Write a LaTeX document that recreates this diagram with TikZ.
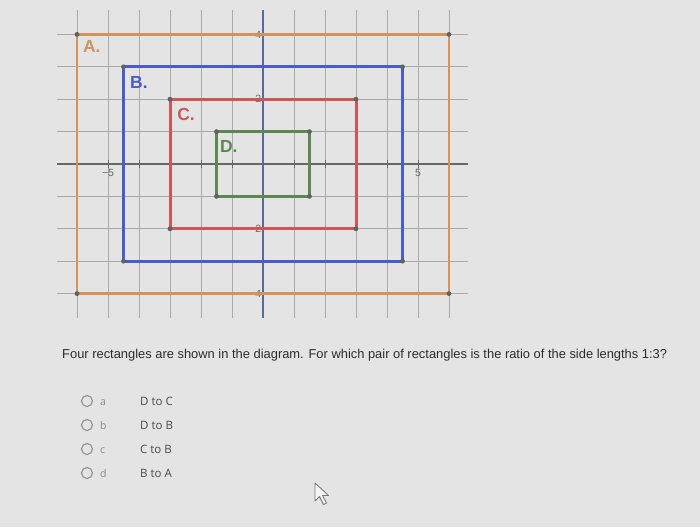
\documentclass[tikz,border=0pt]{standalone}
\usepackage{fontspec}
\setmainfont{Liberation Sans}
\newfontfamily\optfont{Open Sans}
\usetikzlibrary{positioning}
\definecolor{bg}{HTML}{E3E4E3}
\definecolor{gridgray}{HTML}{A9AAAA}
\definecolor{axisgray}{HTML}{666868}
\definecolor{axisblue}{HTML}{5A66A8}
\definecolor{colA}{HTML}{D4925C}
\definecolor{colB}{HTML}{4A5BD0}
\definecolor{colC}{HTML}{CE5656}
\definecolor{colD}{HTML}{5E8752}
\definecolor{dotgray}{HTML}{5F6360}
\definecolor{txtgray}{HTML}{2C2C2C}
\definecolor{optgray}{HTML}{7A7C7B}

\begin{document}
\begin{tikzpicture}
[x=1pt, y=-1pt, line join=round,
rect/.style={line width=#1},
letter/.style={font=\fontsize{17.5}{17.5}\selectfont\bfseries, anchor=north west, inner sep=0pt},
ticklabel/.style={font=\fontsize{10.5}{10.5}\selectfont, text=axisgray, inner sep=1.5pt},
radio/.style={circle, draw=optgray!80, line width=1.2pt, minimum size=11pt, inner sep=0pt},
optletter/.style={font=\optfont\fontsize{10.5}{12}\selectfont, text=optgray!90, anchor=base west, inner sep=0pt},
opttext/.style={font=\optfont\fontsize{11.5}{13}\selectfont, text=optgray!60!black, anchor=base west, inner sep=0pt}]

\useasboundingbox (0,0) rectangle (700,527);
\fill[bg] (0,0) rectangle (700,527);

% the plane
\begin{scope}[shift={(263,164)}, x=31pt, y=32.4pt]
\draw[gridgray, line width=0.8pt, step=1] (-6.65,-4.75) grid (6.6,4.75);
\draw[axisgray, line width=1.2pt] (-6.65,0) -- (6.6,0);
\draw[axisblue, line width=1.4pt] (0,-4.75) -- (0,4.75);
\draw[axisgray, line width=1pt] (-5,-0.13) -- (-5,0.13) (-4,-0.13) -- (-4,0.13) (-3,-0.13) -- (-3,0.13)
  (-2,-0.13) -- (-2,0.13) (-1,-0.13) -- (-1,0.13) (1,-0.13) -- (1,0.13) (2,-0.13) -- (2,0.13)
  (3,-0.13) -- (3,0.13) (4,-0.13) -- (4,0.13) (5,-0.13) -- (5,0.13);

\node[ticklabel, below] (xm5) at (-5,-0.1) {−5};
\node[ticklabel, below] (xp5) at (5,-0.1) {5};
\node[ticklabel, left] (yp4) at (0,4) {4};
\node[ticklabel, left] (yp2) at (0,2) {2};
\node[ticklabel, left] (ym2) at (0,-2) {−2};
\node[ticklabel, left] (ym4) at (0,-4) {−4};

% corners
\coordinate (A1) at (-6,4);
\coordinate (A2) at (6,4);
\coordinate (A3) at (6,-4);
\coordinate (A4) at (-6,-4);
\coordinate (B1) at (-4.5,3);
\coordinate (B2) at (4.5,3);
\coordinate (B3) at (4.5,-3);
\coordinate (B4) at (-4.5,-3);
\coordinate (C1) at (-3,2);
\coordinate (C2) at (3,2);
\coordinate (C3) at (3,-2);
\coordinate (C4) at (-3,-2);
\coordinate (D1) at (-1.5,1);
\coordinate (D2) at (1.5,1);
\coordinate (D3) at (1.5,-1);
\coordinate (D4) at (-1.5,-1);

\draw[colA, rect=2.6pt] (A1) -- (A2) -- (A3) -- (A4) -- cycle;
\draw[colB, rect=3pt] (B1) -- (B2) -- (B3) -- (B4) -- cycle;
\draw[colC, rect=3pt] (C1) -- (C2) -- (C3) -- (C4) -- cycle;
\draw[colD, rect=3pt] (D1) -- (D2) -- (D3) -- (D4) -- cycle;

\fill[dotgray] (A1) circle (2.4pt) (A2) circle (2.4pt) (A3) circle (2.4pt) (A4) circle (2.4pt);
\fill[dotgray] (B1) circle (2.4pt) (B2) circle (2.4pt) (B3) circle (2.4pt) (B4) circle (2.4pt);
\fill[dotgray] (C1) circle (2.4pt) (C2) circle (2.4pt) (C3) circle (2.4pt) (C4) circle (2.4pt);
\fill[dotgray] (D1) circle (2.4pt) (D2) circle (2.4pt) (D3) circle (2.4pt) (D4) circle (2.4pt);

\node[letter, text=colA] (labA) at (-5.81,3.83) {A.};
\node[letter, text=colB] (labB) at (-4.29,2.72) {B.};
\node[letter, text=colC] (labC) at (-2.77,1.73) {C.};
\node[letter, text=colD] (labD) at (-1.39,0.74) {D.};
\end{scope}

% question and choices
\node[anchor=west, inner sep=0pt, font=\fontsize{12.9}{15}\selectfont, text=txtgray] (question) at (62,355)
  {Four rectangles are shown in the diagram. For which pair of rectangles is the ratio of the side lengths 1:3?};

\node[radio] (ra) at (87,401) {};
\node[radio] (rb) at (87,425) {};
\node[radio] (rc) at (87,449) {};
\node[radio] (rd) at (87,473) {};
\node[optletter] (la) at (100,405) {a};
\node[optletter] (lb) at (100,429) {b};
\node[optletter] (lc) at (100,453) {c};
\node[optletter] (ld) at (100,477) {d};
\node[opttext] (ta) at (140,405) {D to C};
\node[opttext] (tb) at (140,429) {D to B};
\node[opttext] (tc) at (140,453) {C to B};
\node[opttext] (td) at (140,477) {B to A};

% pointer
\filldraw[fill=bg!40!white, draw=optgray, line width=0.9pt] (315,483) -- ++(0,18) -- ++(4.5,-4.5)
  -- ++(4,8) -- ++(3,-1.5) -- ++(-4,-7.5) -- ++(6,0) -- cycle;

\end{tikzpicture}
\end{document}
